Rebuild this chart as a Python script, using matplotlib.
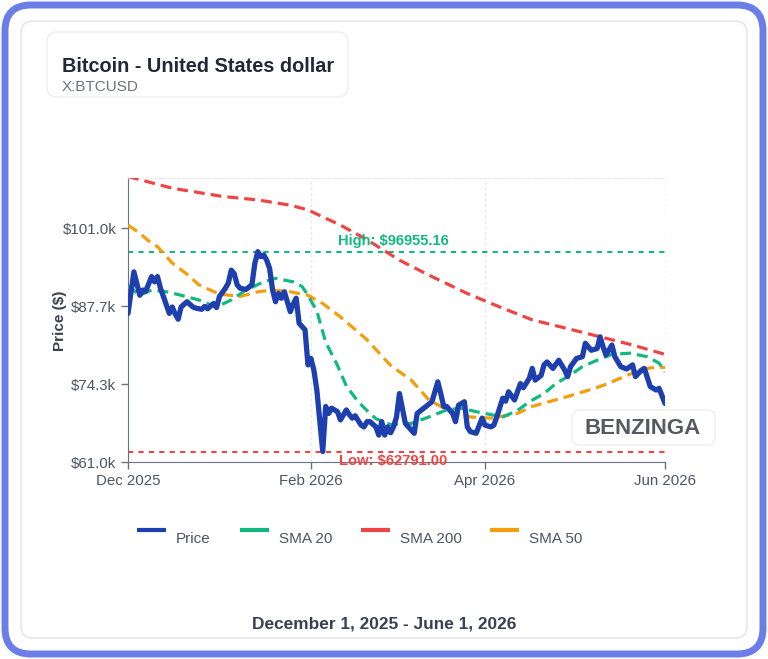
import matplotlib
matplotlib.use("Agg")
import matplotlib.pyplot as plt
from matplotlib.patches import FancyBboxPatch
import numpy as np
import pandas as pd

plt.rcParams["font.family"] = ["Liberation Sans", "DejaVu Sans"]

start = pd.Timestamp("2025-12-01")

# Price (daily close, in $k) - day offset from Dec 1, 2025
price_day = [0, 2, 4, 5, 6, 8, 9, 10, 11, 12, 14, 15, 16, 17, 18, 20, 22, 23, 25, 26,
             27, 29, 30, 31, 33, 34, 35, 36, 37, 38, 40, 42, 43, 44, 45, 46, 47, 48, 49, 50,
             51, 52, 53, 55, 56, 57, 58, 60, 61, 62, 63, 64, 66, 67, 68, 69, 71, 72, 74, 75,
             76, 77, 79, 80, 81, 82, 84, 85, 86, 87, 88, 89, 90, 91, 92, 94, 97, 98, 101, 103,
             105, 106, 107, 108, 110, 111, 112, 114, 115, 116, 118, 120, 121, 123, 124, 125, 127, 128, 129, 131,
             133, 134, 136, 137, 138, 140, 141, 142, 144, 146, 148, 149, 150, 152, 154, 155, 157, 159, 160, 161,
             162, 164, 165, 167, 169, 171, 172, 174, 175, 177, 179, 180, 182]
price_val = [86.4, 93.5, 89.5, 90.4, 90.2, 92.7, 91.8, 92.7, 90.7, 89.3, 86.4, 87.5, 86.3, 85.4, 87.5, 88.4, 87.5, 87.3, 87.1, 87.6,
             87.2, 88.1, 87.4, 89.3, 90.7, 91.6, 93.8, 93.2, 91.3, 90.7, 90.5, 91.3, 95.0, 96.95516, 96.1, 96.4, 95.5, 94.1, 90.4, 88.4,
             89.8, 89.0, 90.1, 86.7, 88.0, 89.0, 84.7, 83.6, 77.6, 78.7, 76.7, 73.3, 62.791, 70.5, 69.3, 70.2, 69.6, 68.2, 69.9, 69.1,
             68.5, 68.9, 67.3, 67.0, 67.9, 67.9, 67.0, 65.6, 67.9, 65.6, 67.0, 66.0, 67.0, 68.7, 72.7, 67.6, 65.9, 69.3, 70.5, 71.3,
             74.7, 72.7, 70.5, 70.5, 69.3, 67.9, 70.7, 71.3, 67.0, 66.2, 65.9, 68.5, 67.3, 67.0, 67.3, 68.7, 71.9, 71.4, 73.0, 71.6,
             74.4, 73.7, 75.3, 77.0, 75.0, 75.8, 77.6, 78.1, 77.0, 78.4, 76.7, 75.6, 77.3, 78.7, 79.0, 81.3, 80.1, 80.4, 82.4, 80.7,
             79.3, 81.0, 79.0, 77.3, 76.9, 77.6, 75.6, 76.7, 77.0, 73.9, 73.3, 73.6, 71.0]

# Moving averages ($k)
sma20_day = [0, 4, 8, 13, 18, 24, 30, 35, 40, 46, 50, 56, 59, 61, 64, 67, 71, 74, 78, 81,
             84, 89, 96, 102, 108, 113, 118, 123, 127, 132, 136, 141, 145, 150, 154, 159, 164, 170, 176, 180, 182]
sma20_val = [91.1, 89.5, 90.4, 90.1, 89.5, 88.7, 87.5, 88.7, 90.4, 91.8, 92.4, 91.8, 91.0, 89.5, 86.8, 81.5, 77.5, 74.0, 71.3, 69.8,
             68.4, 67.4, 67.6, 68.7, 69.9, 70.2, 69.6, 69.1, 68.7, 69.8, 71.3, 72.7, 74.4, 75.9, 77.3, 78.4, 79.4, 79.6, 79.0, 77.9, 76.4]

sma50_day = [0, 4, 7, 10, 12, 15, 20, 24, 27, 31, 38, 44, 49, 55, 61, 66, 72, 81, 89, 96,
             102, 109, 116, 123, 132, 137, 149, 153, 160, 164, 171, 177, 182]
sma50_val = [101.5, 100.1, 98.8, 97.8, 96.7, 95.0, 93.1, 91.3, 90.6, 89.7, 89.3, 90.1, 90.4, 90.1, 89.5, 88.1, 85.8, 81.9, 77.5, 75.0,
             71.6, 69.7, 68.7, 68.5, 69.3, 70.5, 72.2, 72.8, 73.9, 74.7, 76.2, 77.1, 77.2]

sma200_day = [0, 15, 32, 44, 55, 61, 66, 72, 81, 92, 103, 115, 126, 137, 149, 160, 171, 182]
sma200_val = [109.8, 107.8, 106.4, 105.8, 104.9, 104.1, 102.9, 101.5, 99.0, 95.5, 92.7, 89.8, 87.5, 85.3, 83.8, 82.4, 81.0, 79.4]

tick_dates = ["2025-12-01", "2026-02-01", "2026-04-01", "2026-06-01"]
tick_labels = ["Dec 2025", "Feb 2026", "Apr 2026", "Jun 2026"]

legend_names = ["Price", "SMA 20", "SMA 200", "SMA 50"]


def to_dates(days):
    return start + pd.to_timedelta(days, unit="D")


def k(vals):
    return np.array(vals) * 1000


blue = "#1e40af"
green = "#10b981"
red = "#ef4444"
orange = "#f59e0b"
legend_colors = [blue, green, red, orange]

fig = plt.figure(figsize=(7.68, 6.59), dpi=100)

# background layer in pixel coordinates
bg = fig.add_axes([0, 0, 1, 1], zorder=0)
bg.set_xlim(0, 768)
bg.set_ylim(659, 0)
bg.axis("off")
bg.add_patch(FancyBboxPatch((5, 5), 758, 649, boxstyle="round,pad=0,rounding_size=26",
                            fc="white", ec="#6b7ee8", lw=5))
bg.add_patch(FancyBboxPatch((21, 21), 726, 617, boxstyle="round,pad=0,rounding_size=12",
                            fc="white", ec="#e5e7eb", lw=1.2))
bg.add_patch(FancyBboxPatch((47, 32), 301, 65, boxstyle="round,pad=0,rounding_size=10",
                            fc="white", ec="#eceef1", lw=1))
bg.text(62, 66, "Bitcoin - United States dollar", fontsize=14.3, fontweight="bold",
        color="#1f2937", va="center")
bg.text(62, 87, "X:BTCUSD", fontsize=11, color="#6b7280", va="center")
bg.add_patch(FancyBboxPatch((572, 410), 143, 35, boxstyle="round,pad=0,rounding_size=8",
                            fc="white", ec="#eceef1", lw=1))
bg.text(643, 429, "BENZINGA", fontsize=16, fontweight="bold", color="#555a60",
        ha="center", va="center")
bg.text(60, 321, "Price ($)", fontsize=11, fontweight="bold", color="#374151",
        rotation=90, ha="center", va="center")
bg.text(384, 624, "December 1, 2025 - June 1, 2026", fontsize=12.4, fontweight="bold",
        color="#374151", ha="center", va="center")

# legend, drawn by hand like the reference layout
leg_x = [137, 240, 361, 490]
for x0, name, c in zip(leg_x, legend_names, legend_colors):
    bg.plot([x0, x0 + 29], [530, 530], color=c, lw=3, solid_capstyle="butt")
    bg.text(x0 + 39, 539, name, fontsize=11, color="#4b5563", va="center")

ax = fig.add_axes([128 / 768, 1 - 462 / 659, (665 - 128) / 768, (462 - 178) / 659], zorder=1)
ax.set_facecolor("none")

ax.plot(to_dates(sma200_day), k(sma200_val), color=red, lw=2.3, dashes=(3.4, 1.9), zorder=3)
ax.plot(to_dates(sma50_day), k(sma50_val), color=orange, lw=2.3, dashes=(3.4, 1.9), zorder=3)
ax.plot(to_dates(sma20_day), k(sma20_val), color=green, lw=2.3, dashes=(3.4, 1.9), zorder=3)
ax.plot(to_dates(price_day), k(price_val), color=blue, lw=3.8, zorder=4,
        solid_joinstyle="round", solid_capstyle="round")

high = max(price_val) * 1000
low = min(price_val) * 1000
ax.axhline(high, color=green, lw=1.5, dashes=(2.5, 2.5), zorder=2)
ax.axhline(low, color=red, lw=1.5, dashes=(2.5, 2.5), zorder=2)

ax.text(pd.Timestamp("2026-03-01"), high + 550, f"High: ${high:.2f}", color=green,
        fontsize=10.6, fontweight="bold", ha="center", va="bottom", zorder=5)
ax.text(pd.Timestamp("2026-03-01"), low - 500, f"Low: ${low:.2f}", color=red,
        fontsize=10.6, fontweight="bold", ha="center", va="top", zorder=5, clip_on=False)

ax.set_xlim(pd.Timestamp(tick_dates[0]), pd.Timestamp(tick_dates[-1]))
ax.set_ylim(61000, 109550)
ax.set_xticks(pd.to_datetime(tick_dates))
ax.set_xticklabels(tick_labels)
yt = np.linspace(61000, 101000, 4)
ax.set_yticks(yt)
ax.set_yticklabels([f"${v / 1000:.1f}k" for v in yt])

ax.grid(axis="x", color="#e5e7eb", lw=1, dashes=(2, 2))
ax.set_axisbelow(True)
ax.spines["right"].set_visible(False)
ax.spines["top"].set_color("#e5e7eb")
ax.spines["top"].set_linestyle((0, (2, 2)))
ax.spines["left"].set_color("#6b7280")
ax.spines["bottom"].set_color("#6b7280")
ax.tick_params(colors="#6b7280", labelcolor="#4b5563", labelsize=10.8, length=5, width=1)

fig.savefig("out.png", dpi=100)
